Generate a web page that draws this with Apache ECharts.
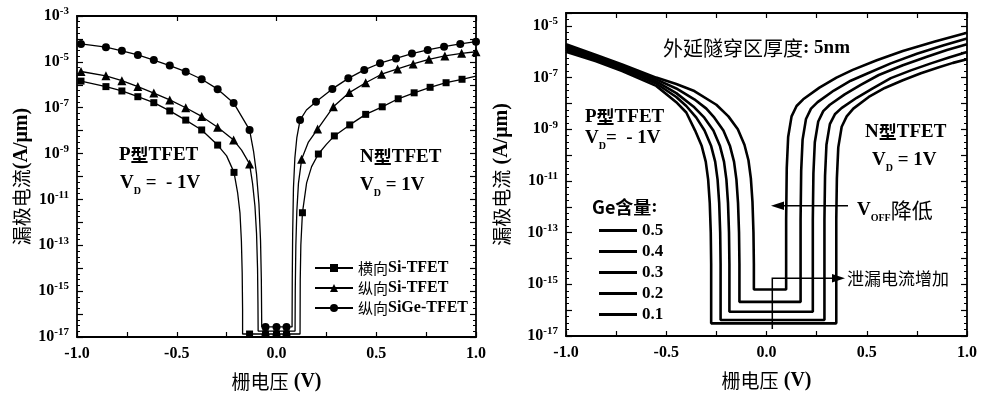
<!DOCTYPE html>
<html>
<head>
<meta charset="utf-8">
<script src="https://cdn.jsdelivr.net/npm/echarts@6/dist/echarts.min.js"></script>
<style>
html, body { margin: 0; padding: 0; background: #fff; }
#main { width: 987px; height: 399px; }
</style>
</head>
<body>
<div id="main"></div>
<script>
// 数据: [栅电压 V, log10(漏极电流 A/um)]
var leftNames = ['横向Si-TFET', '纵向Si-TFET', '纵向SiGe-TFET'];

var latSiPath = [[-0.98,-5.84],[-0.855,-6.08],[-0.775,-6.27],[-0.695,-6.52],[-0.615,-6.78],[-0.535,-7.14],[-0.455,-7.54],[-0.375,-7.97],[-0.295,-8.63],[-0.25,-9.1],[-0.213,-9.82],[-0.195,-10.7],[-0.183,-11.6],[-0.176,-12.8],[-0.172,-14.2],[-0.17,-15.8],[-0.17,-16.87],[-0.135,-16.87],[-0.055,-16.87],[0,-16.87],[0.05,-16.87],[0.118,-16.87],[0.119,-14.5],[0.122,-13.0],[0.13,-11.58],[0.151,-10.28],[0.176,-9.57],[0.21,-9.02],[0.25,-8.6],[0.29,-8.23],[0.367,-7.75],[0.447,-7.29],[0.53,-6.96],[0.61,-6.61],[0.69,-6.35],[0.77,-6.11],[0.85,-5.91],[0.93,-5.76],[1.0,-5.62]];
var latSiMarks = [-0.98,-0.855,-0.775,-0.695,-0.615,-0.535,-0.455,-0.375,-0.295,-0.213,-0.135,-0.055,0,0.05,0.13,0.21,0.29,0.367,0.447,0.53,0.61,0.69,0.77,0.85,0.93];

var verSiPath = [[-0.98,-5.42],[-0.855,-5.61],[-0.775,-5.82],[-0.695,-6.08],[-0.615,-6.36],[-0.535,-6.66],[-0.455,-7.0],[-0.375,-7.38],[-0.295,-7.85],[-0.215,-8.41],[-0.175,-8.85],[-0.135,-9.45],[-0.12,-10.3],[-0.108,-11.3],[-0.1,-12.5],[-0.095,-14],[-0.093,-15.5],[-0.092,-16.74],[-0.055,-16.74],[0,-16.74],[0.05,-16.74],[0.093,-16.74],[0.094,-15],[0.097,-13],[0.102,-11.5],[0.11,-10.3],[0.126,-9.25],[0.16,-8.5],[0.206,-7.93],[0.285,-6.96],[0.365,-6.34],[0.447,-5.91],[0.527,-5.54],[0.607,-5.31],[0.685,-5.09],[0.764,-4.89],[0.844,-4.74],[0.928,-4.63],[1.0,-4.56]];
var verSiMarks = [-0.98,-0.855,-0.775,-0.695,-0.615,-0.535,-0.455,-0.375,-0.295,-0.215,-0.135,-0.055,0,0.05,0.126,0.206,0.285,0.365,0.447,0.527,0.607,0.685,0.764,0.844,0.928,1.0];

var verSiGePath = [[-0.98,-4.22],[-0.855,-4.36],[-0.775,-4.52],[-0.695,-4.70],[-0.615,-4.92],[-0.535,-5.16],[-0.455,-5.43],[-0.375,-5.76],[-0.295,-6.19],[-0.215,-6.79],[-0.135,-7.97],[-0.115,-8.9],[-0.1,-9.9],[-0.088,-11.2],[-0.08,-12.8],[-0.076,-14.5],[-0.074,-16.56],[-0.055,-16.56],[0,-16.56],[0.05,-16.56],[0.078,-16.56],[0.079,-14.5],[0.081,-12.5],[0.085,-10.5],[0.092,-9.2],[0.102,-8.3],[0.118,-7.54],[0.15,-7.1],[0.198,-6.74],[0.28,-6.18],[0.36,-5.72],[0.44,-5.35],[0.519,-5.06],[0.599,-4.85],[0.679,-4.64],[0.758,-4.48],[0.84,-4.34],[0.921,-4.22],[1.0,-4.12]];
var verSiGeMarks = [-0.98,-0.855,-0.775,-0.695,-0.615,-0.535,-0.455,-0.375,-0.295,-0.215,-0.135,-0.055,0,0.05,0.118,0.198,0.28,0.36,0.44,0.519,0.599,0.679,0.758,0.84,0.921,1.0];

// 右图: 不同Ge含量
var geLevels = ['0.5', '0.4', '0.3', '0.2', '0.1'];
var ge05 = [[-1,-5.71],[-0.85,-6.12],[-0.72,-6.49],[-0.55,-7.0],[-0.45,-7.25],[-0.36,-7.52],[-0.25,-8.05],[-0.19,-8.5],[-0.143,-9.0],[-0.11,-9.6],[-0.09,-10.2],[-0.078,-10.9],[-0.07,-11.8],[-0.065,-13],[-0.063,-14.2],[-0.063,-15.2],[0.098,-15.2],[0.098,-12.5],[0.101,-10.5],[0.108,-9.3],[0.125,-8.5],[0.15,-8.1],[0.183,-7.84],[0.264,-7.39],[0.349,-7.0],[0.43,-6.7],[0.55,-6.33],[0.68,-5.97],[0.84,-5.6],[1.0,-5.26]];
var ge04 = [[-1,-5.78],[-0.85,-6.18],[-0.72,-6.55],[-0.55,-7.07],[-0.45,-7.42],[-0.36,-7.84],[-0.3,-8.2],[-0.26,-8.55],[-0.215,-9.05],[-0.182,-9.65],[-0.162,-10.25],[-0.15,-10.95],[-0.142,-11.85],[-0.137,-13],[-0.135,-14.2],[-0.135,-15.68],[0.17,-15.68],[0.17,-12.5],[0.173,-10.6],[0.18,-9.4],[0.197,-8.6],[0.222,-8.2],[0.255,-7.95],[0.336,-7.5],[0.42,-7.12],[0.5,-6.85],[0.62,-6.45],[0.75,-6.08],[0.88,-5.76],[1.0,-5.49]];
var ge03 = [[-1,-5.85],[-0.85,-6.24],[-0.72,-6.61],[-0.55,-7.15],[-0.45,-7.6],[-0.36,-8.15],[-0.31,-8.55],[-0.265,-9.05],[-0.232,-9.65],[-0.212,-10.25],[-0.2,-10.95],[-0.192,-11.85],[-0.187,-13],[-0.185,-14.2],[-0.185,-16.06],[0.231,-16.06],[0.231,-12.5],[0.234,-10.7],[0.241,-9.5],[0.258,-8.7],[0.283,-8.3],[0.316,-8.05],[0.39,-7.65],[0.47,-7.28],[0.56,-6.9],[0.68,-6.52],[0.8,-6.19],[0.9,-5.93],[1.0,-5.71]];
var ge02 = [[-1,-5.92],[-0.85,-6.3],[-0.72,-6.68],[-0.55,-7.23],[-0.45,-7.75],[-0.4,-8.1],[-0.35,-8.55],[-0.309,-9.05],[-0.276,-9.65],[-0.256,-10.25],[-0.244,-10.95],[-0.236,-11.85],[-0.231,-13],[-0.229,-14.2],[-0.229,-16.38],[0.289,-16.38],[0.289,-12.5],[0.292,-10.8],[0.299,-9.6],[0.316,-8.8],[0.341,-8.42],[0.374,-8.18],[0.45,-7.78],[0.53,-7.42],[0.62,-7.02],[0.72,-6.72],[0.82,-6.45],[0.91,-6.22],[1.0,-6.01]];
var ge01 = [[-1,-6.0],[-0.85,-6.37],[-0.72,-6.75],[-0.55,-7.32],[-0.45,-7.95],[-0.4,-8.35],[-0.356,-9.05],[-0.323,-9.65],[-0.303,-10.25],[-0.291,-10.95],[-0.283,-11.85],[-0.278,-13],[-0.276,-14.2],[-0.276,-16.51],[0.348,-16.51],[0.348,-12.5],[0.351,-10.9],[0.358,-9.7],[0.375,-8.9],[0.4,-8.5],[0.433,-8.2],[0.51,-7.75],[0.59,-7.4],[0.68,-7.1],[0.77,-6.83],[0.86,-6.6],[0.93,-6.43],[1.0,-6.29]];
var gePaths = [ge05, ge04, ge03, ge02, ge01];

var leftYRange = [-17, -3];
var rightYRange = [-17, -4.5];

var SERIF = '"Liberation Serif", "Times New Roman", serif';
var CJK = '"Noto Sans CJK SC", sans-serif';

var chart = echarts.init(document.getElementById('main'));

function markedData(path, marks) {
  return path.map(function (p) {
    if (marks.indexOf(p[0]) >= 0) return { value: p };
    return { value: p, symbol: 'none' };
  });
}

var tickRich = {
  b: { fontFamily: SERIF, fontWeight: 'bold', fontSize: 16, color: '#000', lineHeight: 20 },
  s: { fontFamily: SERIF, fontWeight: 'bold', fontSize: 11, color: '#000', lineHeight: 11, verticalAlign: 'top' }
};
var nameRich = {
  c: { fontFamily: CJK, fontSize: 19, color: '#000' },
  l: { fontFamily: SERIF, fontWeight: 'bold', fontSize: 20, color: '#000' }
};

function decadeLabel(v) {
  var r = Math.round(v);
  if (Math.abs(v - r) > 1e-6 || (r + 17) % 2 !== 0) return '';
  return '{b|10}{s|' + r + '}';
}
function voltLabel(v) {
  if (Math.abs(v * 2 - Math.round(v * 2)) > 1e-6) return '';
  return v.toFixed(1);
}

function xAx(grid, pos, interval, withLabel, nameText) {
  return {
    type: 'value', gridIndex: grid, position: pos, min: -1, max: 1, interval: interval,
    axisLine: { onZero: false, lineStyle: { color: '#000', width: 1.8 } },
    axisTick: { inside: true, length: 5, lineStyle: { color: '#000', width: 1.2 } },
    axisLabel: withLabel ? { formatter: voltLabel, margin: 9, fontFamily: SERIF, fontWeight: 'bold', fontSize: 16, color: '#000' } : { show: false },
    splitLine: { show: false },
    name: nameText || '', nameLocation: 'middle', nameGap: 35,
    nameTextStyle: { fontSize: 19, rich: nameRich }
  };
}
function yAx(grid, pos, range, withLabel, nameText, nameGap) {
  return {
    type: 'value', gridIndex: grid, position: pos, min: range[0], max: range[1], interval: 1,
    axisLine: { onZero: false, lineStyle: { color: '#000', width: 1.8 } },
    axisTick: { inside: true, length: 6, lineStyle: { color: '#000', width: 1.2 } },
    minorTick: { show: true, splitNumber: 4, length: 3, lineStyle: { color: '#000', width: 1 } },
    axisLabel: withLabel ? { formatter: decadeLabel, margin: 8, rich: tickRich } : { show: false },
    splitLine: { show: false },
    name: nameText || '', nameLocation: 'middle', nameRotate: 90, nameGap: nameGap || 0,
    nameTextStyle: { fontSize: 19, rich: nameRich }
  };
}

var leftShapes = [['rect', 7], ['triangle', 9], ['circle', 8]];
var leftPaths = [[latSiPath, latSiMarks], [verSiPath, verSiMarks], [verSiGePath, verSiGeMarks]];

var series = [];
leftNames.forEach(function (name, i) {
  series.push({
    name: name, type: 'line', xAxisIndex: 0, yAxisIndex: 0,
    data: markedData(leftPaths[i][0], leftPaths[i][1]),
    symbol: leftShapes[i][0], symbolSize: leftShapes[i][1], showAllSymbol: true,
    lineStyle: { color: '#000', width: 1.3 }, itemStyle: { color: '#000' },
    animation: false
  });
});
geLevels.forEach(function (name, i) {
  series.push({
    name: name, type: 'line', xAxisIndex: 2, yAxisIndex: 2,
    data: gePaths[i], symbol: 'none',
    lineStyle: { color: '#000', width: 2.6 }, itemStyle: { color: '#000' },
    animation: false
  });
});

function label(x, y, text, rich) {
  return { type: 'text', x: x, y: y, style: { text: text, rich: rich, verticalAlign: 'middle', fill: '#000' } };
}
var annRich = {
  l: { fontFamily: SERIF, fontWeight: 'bold', fontSize: 19, color: '#000', lineHeight: 26 },
  c: { fontFamily: CJK, fontWeight: 'bold', fontSize: 18, color: '#000', lineHeight: 26 },
  n: { fontFamily: CJK, fontSize: 20, color: '#000', lineHeight: 26 },
  d: { fontFamily: SERIF, fontWeight: 'bold', fontSize: 10, color: '#000', lineHeight: 8, verticalAlign: 'bottom' },
  big: { fontFamily: CJK, fontSize: 21, color: '#000', lineHeight: 26 }
};

var option = {
  backgroundColor: '#fff',
  animation: false,
  grid: [
    { left: 77, top: 16, width: 399, height: 321 },
    { left: 566, top: 13, width: 401, height: 323 }
  ],
  xAxis: [
    xAx(0, 'bottom', 0.25, true, '{c|栅电压} {l|(V)}'),
    xAx(0, 'top', 0.5, false),
    xAx(1, 'bottom', 0.25, true, '{c|栅电压} {l|(V)}'),
    xAx(1, 'top', 0.25, false)
  ],
  yAxis: [
    yAx(0, 'left', leftYRange, true, '{c|漏极电流}{l|(A/μm)}', 45),
    yAx(0, 'right', leftYRange, false),
    yAx(1, 'left', rightYRange, true, '{c|漏极电流} {l|(A/μm)}', 54),
    yAx(1, 'right', rightYRange, false)
  ],
  legend: [
    {
      data: leftNames, orient: 'vertical', left: 309, top: 255,
      itemWidth: 38, itemHeight: 10, itemGap: 4,
      formatter: function (n) { return '{c|' + n.slice(0, 2) + '}{l|' + n.slice(2) + '}'; },
      textStyle: { rich: {
        c: { fontFamily: CJK, fontSize: 15, color: '#000', lineHeight: 15 },
        l: { fontFamily: SERIF, fontWeight: 'bold', fontSize: 16, color: '#000', lineHeight: 15 }
      } }
    },
    {
      data: geLevels, orient: 'vertical', left: 594, top: 217,
      icon: 'rect', itemWidth: 38, itemHeight: 3, itemGap: 4,
      textStyle: { fontFamily: SERIF, fontWeight: 'bold', fontSize: 17, color: '#000', lineHeight: 14 }
    }
  ],
  graphic: [
    label(119, 155, '{l|P}{c|型}{l|TFET}', annRich),
    label(120, 183, '{l|V}{d|D}{l| =  - 1V}', annRich),
    label(360, 157, '{l|N}{c|型}{l|TFET}', annRich),
    label(360, 185, '{l|V}{d|D}{l| = 1V}', annRich),
    label(663, 48, '{n|外延隧穿区厚度}{l|: 5nm}', annRich),
    label(585, 117, '{l|P}{c|型}{l|TFET}', annRich),
    label(585, 138, '{l|V}{d|D}{l|=  - 1V}', annRich),
    label(865, 132, '{l|N}{c|型}{l|TFET}', annRich),
    label(872, 160, '{l|V}{d|D}{l| = 1V}', annRich),
    label(857, 210, '{l|V}{d|OFF}{big|降低}', annRich),
    label(847, 279, '{n|泄漏电流增加}', { n: { fontFamily: CJK, fontSize: 17, color: '#000' } }),
    label(592, 207, '{c|Ge含量}{l|:}', annRich),
    { type: 'line', shape: { x1: 848, y1: 205.7, x2: 780, y2: 205.7 }, style: { stroke: '#000', lineWidth: 1.5 } },
    { type: 'polygon', shape: { points: [[771, 205.7], [784, 201.5], [784, 209.9]] }, style: { fill: '#000' } },
    { type: 'polyline', shape: { points: [[772.3, 329], [772.3, 278.3], [836, 278.3]] }, style: { stroke: '#000', lineWidth: 1.5, fill: null } },
    { type: 'polygon', shape: { points: [[845, 278.3], [832, 274.1], [832, 282.5]] }, style: { fill: '#000' } }
  ],
  series: series
};
chart.setOption(option);
</script>
</body>
</html>
